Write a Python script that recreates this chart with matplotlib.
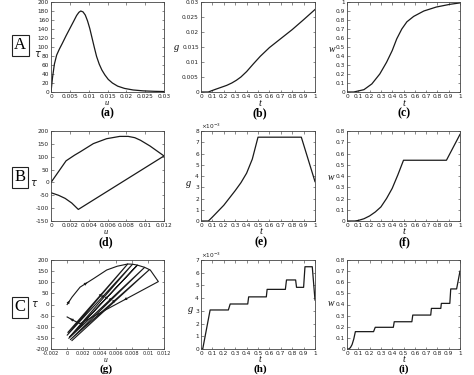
import matplotlib
matplotlib.use("Agg")
import matplotlib.pyplot as plt
import numpy as np

# ---------------- data ----------------
a_u = [0, 0.0004, 0.0009, 0.0015, 0.0022, 0.003, 0.004, 0.005, 0.006, 0.0068, 0.0074, 0.0079,
       0.0085, 0.0091, 0.0097, 0.0103, 0.0109, 0.0115, 0.0121, 0.0128, 0.0135, 0.0143, 0.0152,
       0.0163, 0.0177, 0.0195, 0.0218, 0.0245, 0.0275, 0.03]
a_tau = [0, 32, 62, 82, 95, 108, 125, 141, 157, 170, 177, 180, 178, 171, 158, 141, 120, 99, 79,
         62, 49, 38, 28, 20, 13, 8, 4.5, 2.5, 1.5, 1]

b_t = [0, 0.064, 0.12, 0.18, 0.225, 0.27, 0.31, 0.35, 0.4, 0.46, 0.52, 0.6, 0.7, 0.8, 0.9, 1.0]
b_g = [0, 0, 0.0008, 0.0016, 0.0022, 0.003, 0.0039, 0.005, 0.0068, 0.0094, 0.0119, 0.0148,
       0.0178, 0.0208, 0.0241, 0.0275]

c_t = [0, 0.06, 0.15, 0.22, 0.29, 0.35, 0.4, 0.44, 0.485, 0.53, 0.59, 0.68, 0.79, 0.91, 1.0]
c_w = [0, 0, 0.026, 0.09, 0.2, 0.33, 0.46, 0.59, 0.70, 0.78, 0.84, 0.90, 0.944, 0.974, 0.99]

d_u = [0, 0.0008, 0.0016, 0.0025, 0.0031, 0.0045, 0.0059, 0.0073, 0.0082, 0.0089, 0.0095,
       0.0105, 0.012, 0.0029, 0.0022, 0.0015, 0.0008, 0]
d_tau = [0, 42, 84, 106, 119, 151, 170, 179, 179, 174, 164, 142, 103, -105, -80, -62, -50, -40]

e_t = [0, 0.065, 0.1, 0.2, 0.3, 0.35, 0.4, 0.45, 0.5, 0.88, 1.0]
e_g = [0, 0, 0.35, 1.4, 2.7, 3.4, 4.25, 5.5, 7.45, 7.45, 3.5]          # x 10^-3

f_t = [0, 0.07, 0.1, 0.15, 0.2, 0.25, 0.3, 0.35, 0.4, 0.45, 0.5, 0.88, 1.0]
f_w = [0, 0, 0.005, 0.02, 0.045, 0.08, 0.125, 0.2, 0.29, 0.41, 0.54, 0.54, 0.77]

# panel g: envelope + final unloading, and the fan of reloading/unloading cycles
g_env_u = [0, 0.0006, 0.0016, 0.0033, 0.0049, 0.0062, 0.0075, 0.0081, 0.0087, 0.0096, 0.0103,
           0.0113, 0.0016, 0.0008, 0]
g_env_tau = [0, 33, 78, 117, 155, 172, 182, 181, 177, 167, 155, 103, -86, -72, -56]
g_fan_u = [0.0001, 0.0075, 0.0, 0.0081, 0.0003, 0.0087, 0.0002, 0.0096, 0.0004, 0.0102, 0.0006]
g_fan_tau = [-125, 182, -138, 181, -146, 177, -152, 167, -158, 157, -162]

h_t = [0, 0.015, 0.08, 0.24, 0.256, 0.41, 0.418, 0.573, 0.58, 0.74, 0.75, 0.83, 0.838, 0.9,
       0.912, 0.976, 1.0]
h_g = [0, 0, 3.07, 3.07, 3.54, 3.54, 4.1, 4.1, 4.69, 4.69, 5.43, 5.43, 4.85, 4.85, 6.47, 6.47,
       3.85]                                                      # x 10^-3

i_t = [0, 0.015, 0.03, 0.045, 0.06, 0.074, 0.235, 0.25, 0.41, 0.418, 0.574, 0.582, 0.741,
       0.747, 0.83, 0.835, 0.91, 0.918, 0.97, 1.0]
i_w = [0, 0, 0.012, 0.04, 0.09, 0.156, 0.156, 0.195, 0.195, 0.245, 0.245, 0.305, 0.305, 0.365,
       0.365, 0.41, 0.41, 0.54, 0.54, 0.7]

# ---------------- figure ----------------
W, H = 474, 375
fig = plt.figure(figsize=(W / 100, H / 100), dpi=100)
SERIF = ['Liberation Serif', 'DejaVu Serif']
LC = '#1a1a1a'
LW = 0.9


def px_axes(l, t, r, b):
    return fig.add_axes([l / W, 1 - b / H, (r - l) / W, (b - t) / H])


def style(ax, xlim, xticks, xlabels, ylim, yticks, ylabels, xsize=4.2):
    ax.set_xlim(*xlim)
    ax.set_ylim(*ylim)
    ax.set_xticks(xticks)
    ax.set_xticklabels(xlabels)
    ax.set_yticks(yticks)
    ax.set_yticklabels(ylabels)
    ax.tick_params(direction='in', length=1.8, width=0.4, labelsize=4.2, pad=1.5,
                   top=True, right=True, colors='#333333', labelcolor='#222222')
    ax.tick_params(axis='x', labelsize=xsize)
    for s in ax.spines.values():
        s.set_linewidth(0.6)
        s.set_color('#444444')


def ftext(x, y, s, **kw):
    fig.text(x / W, 1 - y / H, s, ha='center', va='center', **kw)


t_ticks = [round(0.1 * k, 1) for k in range(11)]
t_labels = ['0'] + ['%.1f' % v for v in t_ticks[1:-1]] + ['1']

cols = [(51, 164), (201, 315), (347, 460)]
rows = [(2, 92), (131, 221), (260, 349)]

# (a)
ax = px_axes(cols[0][0], rows[0][0], cols[0][1], rows[0][1])
ax.plot(a_u, a_tau, color=LC, lw=LW)
style(ax, (0, 0.03), [0, 0.005, 0.01, 0.015, 0.02, 0.025, 0.03],
      ['0', '0.005', '0.01', '0.015', '0.02', '0.025', '0.03'],
      (0, 200), list(range(0, 201, 20)), [str(v) for v in range(0, 201, 20)])

# (b)
ax = px_axes(cols[1][0], rows[0][0], cols[1][1], rows[0][1])
ax.plot(b_t, b_g, color=LC, lw=LW)
style(ax, (0, 1), t_ticks, t_labels, (0, 0.03),
      [0, 0.005, 0.01, 0.015, 0.02, 0.025, 0.03],
      ['0', '0.005', '0.01', '0.015', '0.02', '0.025', '0.03'])

# (c)
ax = px_axes(cols[2][0], rows[0][0], cols[2][1], rows[0][1])
ax.plot(c_t, c_w, color=LC, lw=LW)
style(ax, (0, 1), t_ticks, t_labels, (0, 1), t_ticks, t_labels)

# (d)
ax = px_axes(cols[0][0], rows[1][0], cols[0][1], rows[1][1])
ax.plot(d_u, d_tau, color=LC, lw=LW)
style(ax, (0, 0.012), [0, 0.002, 0.004, 0.006, 0.008, 0.01, 0.012],
      ['0', '0.002', '0.004', '0.006', '0.008', '0.01', '0.012'],
      (-150, 200), list(range(-150, 201, 50)), [str(v) for v in range(-150, 201, 50)])

# (e)
ax = px_axes(cols[1][0], rows[1][0], cols[1][1], rows[1][1])
ax.plot(e_t, e_g, color=LC, lw=LW)
style(ax, (0, 1), t_ticks, t_labels, (0, 8), list(range(0, 9)), [str(v) for v in range(0, 9)])
ax.text(0.0, 1.005, r'$\times10^{-3}$', transform=ax.transAxes, fontsize=4.2,
        ha='left', va='bottom', color='#222222')

# (f)
ax = px_axes(cols[2][0], rows[1][0], cols[2][1], rows[1][1])
ax.plot(f_t, f_w, color=LC, lw=LW)
f_ticks = [round(0.1 * k, 1) for k in range(9)]
style(ax, (0, 1), t_ticks, t_labels, (0, 0.8), f_ticks, ['0'] + ['%.1f' % v for v in f_ticks[1:]])

# (g)
ax = px_axes(cols[0][0], rows[2][0], cols[0][1], rows[2][1])
ax.plot(g_env_u, g_env_tau, color=LC, lw=LW * 0.9)
ax.plot(g_fan_u, g_fan_tau, color=LC, lw=LW * 0.9)


def arrow_on(ax, us, ts, idx, frac=0.5):
    u0, u1 = us[idx], us[idx + 1]
    t0, t1 = ts[idx], ts[idx + 1]
    um = u0 + frac * (u1 - u0)
    tm = t0 + frac * (t1 - t0)
    ax.annotate('', xy=(um + 0.02 * (u1 - u0), tm + 0.02 * (t1 - t0)), xytext=(um, tm),
                arrowprops=dict(arrowstyle='-|>', color=LC, lw=0.5,
                                mutation_scale=4, shrinkA=0, shrinkB=0))


arrow_on(ax, g_env_u, g_env_tau, 0, 0.5)
arrow_on(ax, g_env_u, g_env_tau, 2, 0.5)
arrow_on(ax, g_env_u, g_env_tau, 11, 0.42)
arrow_on(ax, g_env_u, g_env_tau, 13, 0.5)
for k in (0, 2, 4, 6, 8):
    arrow_on(ax, g_fan_u, g_fan_tau, k, 0.55)
style(ax, (-0.002, 0.012), [-0.002, 0, 0.002, 0.004, 0.006, 0.008, 0.01, 0.012],
      ['-0.002', '0', '0.002', '0.004', '0.006', '0.008', '0.01', '0.012'],
      (-200, 200), list(range(-200, 201, 50)), [str(v) for v in range(-200, 201, 50)],
      xsize=3.6)

# (h)
ax = px_axes(cols[1][0], rows[2][0], cols[1][1], rows[2][1])
ax.plot(h_t, h_g, color=LC, lw=LW)
style(ax, (0, 1), t_ticks, t_labels, (0, 7), list(range(0, 8)), [str(v) for v in range(0, 8)])
ax.text(0.0, 1.005, r'$\times10^{-3}$', transform=ax.transAxes, fontsize=4.2,
        ha='left', va='bottom', color='#222222')

# (i)
ax = px_axes(cols[2][0], rows[2][0], cols[2][1], rows[2][1])
ax.plot(i_t, i_w, color=LC, lw=LW)
style(ax, (0, 1), t_ticks, t_labels, (0, 0.8), f_ticks, ['0'] + ['%.1f' % v for v in f_ticks[1:]])

# ---------------- labels ----------------
lab_kw = dict(family=SERIF, style='italic', color='#111111')
pl_kw = dict(fontsize=8.5, family=SERIF, weight='bold')
# row 1
ftext(38, 54, r'$\tau$', fontsize=7, color='#111111')
ftext(107, 103, 'u', fontsize=6, **lab_kw)
ftext(107, 113, '(a)', **pl_kw)
ftext(177, 48, 'g', fontsize=7.5, **lab_kw)
ftext(260, 103, 't', fontsize=7.5, **lab_kw)
ftext(260, 113, '(b)', **pl_kw)
ftext(332, 50, 'w', fontsize=7, **lab_kw)
ftext(404, 103, 't', fontsize=7.5, **lab_kw)
ftext(404, 113, '(c)', **pl_kw)
# row 2
ftext(34, 183, r'$\tau$', fontsize=7, color='#111111')
ftext(106, 232, 'u', fontsize=6, **lab_kw)
ftext(106, 242, '(d)', **pl_kw)
ftext(189, 183, 'g', fontsize=7.5, **lab_kw)
ftext(261, 232, 't', fontsize=7.5, **lab_kw)
ftext(261, 242, '(e)', **pl_kw)
ftext(331, 177, 'w', fontsize=7, **lab_kw)
ftext(404, 232, 't', fontsize=7.5, **lab_kw)
ftext(404, 242, '(f)', **pl_kw)
# row 3
row3_pl = dict(fontsize=8, family=SERIF, weight='bold')
ftext(35, 304, r'$\tau$', fontsize=7, color='#111111')
ftext(106, 359.5, 'u', fontsize=5.5, **lab_kw)
ftext(106, 369.5, '(g)', **row3_pl)
ftext(191, 310, 'g', fontsize=7.5, **lab_kw)
ftext(260, 359.5, 't', fontsize=7, **lab_kw)
ftext(260, 369.5, '(h)', **row3_pl)
ftext(331, 303, 'w', fontsize=7, **lab_kw)
ftext(404, 359.5, 't', fontsize=7, **lab_kw)
ftext(404, 369.5, '(i)', **row3_pl)

box = dict(boxstyle='square,pad=0.15', fc='white', ec='#222222', lw=0.8)
ftext(20, 45, 'A', fontsize=12, family=SERIF, bbox=box)
ftext(20, 177, 'B', fontsize=12, family=SERIF, bbox=box)
ftext(20, 307, 'C', fontsize=12, family=SERIF, bbox=box)

fig.savefig('out.png', dpi=100)
